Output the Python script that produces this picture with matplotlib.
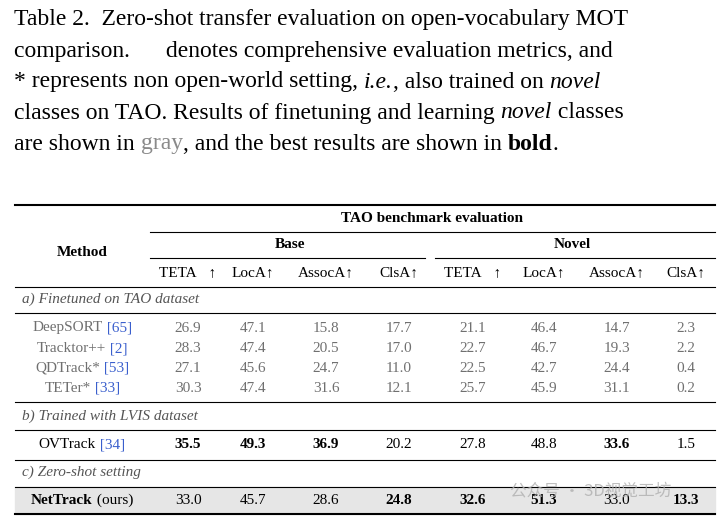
import matplotlib
matplotlib.use("Agg")
import matplotlib.pyplot as plt
from matplotlib.patches import Rectangle

methods = ["DeepSORT", "Tracktor++", "QDTrack*", "TETer*", "OVTrack", "NetTrack"]
cites = [" [65]", " [2]", " [53]", " [33]", " [34]", " (ours)"]
values = [
    [26.9, 47.1, 15.8, 17.7, 21.1, 46.4, 14.7, 2.3],
    [28.3, 47.4, 20.5, 17.0, 22.7, 46.7, 19.3, 2.2],
    [27.1, 45.6, 24.7, 11.0, 22.5, 42.7, 24.4, 0.4],
    [30.3, 47.4, 31.6, 12.1, 25.7, 45.9, 31.1, 0.2],
    [35.5, 49.3, 36.9, 20.2, 27.8, 48.8, 33.6, 1.5],
    [33.0, 45.7, 28.6, 24.8, 32.6, 51.3, 33.0, 13.3],
]
bold = [[], [], [], [], [0, 1, 2, 6], [3, 4, 5, 7]]
col_labels = ["TETA⋆↑", "LocA↑", "AssocA↑", "ClsA↑", "TETA⋆↑", "LocA↑", "AssocA↑", "ClsA↑"]

SERIF = ["Liberation Serif", "DejaVu Serif"]
fig = plt.figure(figsize=(7.27, 5.2), dpi=100)
ax = fig.add_axes([0, 0, 1, 1])
ax.set_xlim(0, 727); ax.set_ylim(520, 0); ax.axis("off")
fig.canvas.draw()
R = fig.canvas.get_renderer()

def seg_line(x, y, segs, size):
    for s, kw in segs:
        t = ax.text(x, y, s, fontsize=size, family=SERIF, va="center", ha="left", **kw)
        bb = t.get_window_extent(R)
        x += bb.width * 727 / fig.bbox.width

cs = 17
seg_line(14, 20, [("Table 2.  Zero-shot transfer evaluation on open-vocabulary MOT", {})], cs)
seg_line(14, 51, [("comparison.  ⋆ denotes comprehensive evaluation metrics, and", {})], cs)
seg_line(14, 82, [("* represents non open-world setting, ", {}), ("i.e.", dict(style="italic")),
                  (", also trained on ", {}), ("novel", dict(style="italic"))], cs)
seg_line(14, 113, [("classes on TAO. Results of finetuning and learning ", {}),
                   ("novel", dict(style="italic")), (" classes", {})], cs)
seg_line(14, 144, [("are shown in ", {}), ("gray", dict(color="#8a8a8a")),
                   (", and the best results are shown in ", {}), ("bold", dict(weight="bold")), (".", {})], cs)

def hl(y, x0=15, x1=715, lw=0.8):
    ax.plot([x0, x1], [y, y], color="black", lw=lw)

ts = 11
ax.add_patch(Rectangle((15, 487), 700, 27, color="#e6e6e6", zorder=0))
hl(205, lw=1.5); hl(232, 150, 715); hl(258, 150, 425); hl(258, 435, 715)
for y in [287, 313, 402, 430, 460, 487]:
    hl(y)
hl(514, lw=1.5)
ax.text(82, 252, "Method", fontsize=ts, family=SERIF, weight="bold", ha="center", va="center")
ax.text(432, 219, "TAO benchmark evaluation", fontsize=ts, family=SERIF, weight="bold", ha="center", va="center")
ax.text(290, 245, "Base", fontsize=ts, family=SERIF, weight="bold", ha="center", va="center")
ax.text(572, 245, "Novel", fontsize=ts, family=SERIF, weight="bold", ha="center", va="center")
xs = [188, 253, 326, 399, 473, 544, 617, 686]
for x, l in zip(xs, col_labels):
    ax.text(x, 273, l, fontsize=ts, family=SERIF, ha="center", va="center")
for y, s in [(299, "a) Finetuned on TAO dataset"), (416, "b) Trained with LVIS dataset"), (472, "c) Zero-shot setting")]:
    ax.text(22, y, s, fontsize=ts, family=SERIF, style="italic", color="#555555", va="center")

rows_y = [328, 349, 368, 388, 445, 500]
for i, (m, c, vals, y) in enumerate(zip(methods, cites, values, rows_y)):
    gray = i < 4
    col = "#707070" if gray else "black"
    mw = "bold" if i == 5 else "normal"
    t1 = ax.text(0, 0, m, fontsize=ts, family=SERIF, weight=mw)
    t2 = ax.text(0, 0, c, fontsize=ts, family=SERIF)
    w = (t1.get_window_extent(R).width + t2.get_window_extent(R).width) * 727 / fig.bbox.width
    t1.remove(); t2.remove()
    seg_line(82 - w / 2, y, [(m, dict(color=col, weight=mw)),
                             (c, dict(color="#3a5fcd" if i < 5 else "black"))], ts)
    for j, (x, v) in enumerate(zip(xs, vals)):
        ax.text(x, y, f"{v:.1f}", fontsize=ts, family=SERIF, ha="center", va="center",
                color=col, weight="bold" if j in bold[i] else "normal")

ax.text(510, 491, "公众号 · 3D视觉工坊", fontsize=12, family=["Noto Sans CJK SC", "DejaVu Sans"],
        color="#b0b0b0", alpha=0.8, va="center")
fig.savefig("out.png", dpi=100)
